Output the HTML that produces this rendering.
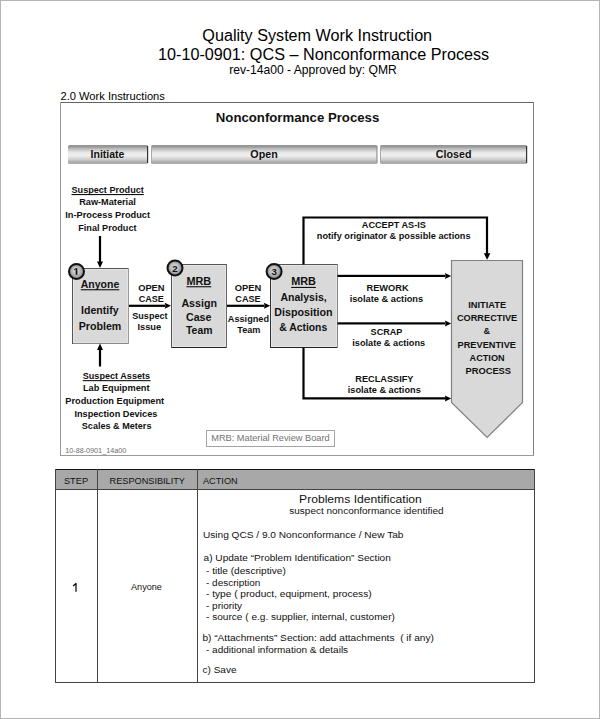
<!DOCTYPE html>
<html><head><meta charset="utf-8">
<style>
html,body{margin:0;padding:0;background:#fff;width:600px;height:719px;overflow:hidden}
svg{display:block}
text{font-family:"Liberation Sans",sans-serif;white-space:pre}
</style></head><body>
<svg width="600" height="719" viewBox="0 0 600 719">

<defs>
 <linearGradient id="btn" x1="0" y1="0" x2="0" y2="1">
  <stop offset="0" stop-color="#949494"/>
  <stop offset="0.1" stop-color="#999999"/>
  <stop offset="0.2" stop-color="#bdbdbd"/>
  <stop offset="0.4" stop-color="#e9e9e9"/>
  <stop offset="0.55" stop-color="#efefef"/>
  <stop offset="0.75" stop-color="#d2d2d2"/>
  <stop offset="0.9" stop-color="#aaaaaa"/>
  <stop offset="1" stop-color="#b0b0b0"/>
 </linearGradient>
 <radialGradient id="circ" cx="0.5" cy="0.5" r="0.5" fx="0.45" fy="0.42">
  <stop offset="0" stop-color="#d6d6d6"/>
  <stop offset="0.5" stop-color="#c0c0c0"/>
  <stop offset="1" stop-color="#808080"/>
 </radialGradient>
</defs>
<!-- page border -->
<rect x="0.5" y="0.5" width="599" height="718" fill="none" stroke="#b4b4b4" stroke-width="1"/>
<!-- diagram frame -->
<line x1="60" y1="102.5" x2="534" y2="102.5" stroke="#666" stroke-width="1"/>
<line x1="60.5" y1="102" x2="60.5" y2="456" stroke="#999" stroke-width="1"/>
<line x1="533.5" y1="102" x2="533.5" y2="456" stroke="#808080" stroke-width="1"/>
<line x1="60" y1="455.5" x2="534" y2="455.5" stroke="#999" stroke-width="1"/>
<!-- buttons -->
<rect x="68" y="145" width="80" height="19" rx="1.5" fill="url(#btn)"/>
<rect x="147" y="146" width="1.2" height="17" fill="#333"/>
<rect x="151" y="145" width="226.5" height="19" rx="1.5" fill="url(#btn)"/>
<rect x="151" y="146" width="1" height="17" fill="#a8a8a8"/>
<rect x="376.3" y="146" width="1.2" height="17" fill="#999"/>
<rect x="380" y="145" width="147" height="19" rx="1.5" fill="url(#btn)"/>
<rect x="380" y="146" width="1" height="17" fill="#a8a8a8"/>
<rect x="526" y="146" width="1.2" height="17" fill="#333"/>
<!-- boxes -->
<rect x="72" y="268" width="57" height="76" fill="#d9d9d9"/>
<rect x="73" y="269" width="55" height="1" fill="#e6e6e6"/>
<rect x="73" y="342" width="55" height="1" fill="#e4e4e4"/>
<rect x="73" y="269" width="1" height="74" fill="#e6e6e6"/>
<rect x="127" y="269" width="1" height="74" fill="#e4e4e4"/>
<rect x="72" y="268" width="57" height="1" fill="#555"/>
<rect x="72" y="343" width="57" height="1" fill="#888"/>
<rect x="72" y="268" width="1" height="76" fill="#555"/>
<rect x="128" y="268" width="1" height="76" fill="#999"/>
<rect x="171" y="264" width="56" height="84" fill="#d9d9d9"/>
<rect x="172" y="265" width="54" height="1" fill="#e6e6e6"/>
<rect x="172" y="346" width="54" height="1" fill="#e4e4e4"/>
<rect x="172" y="265" width="1" height="82" fill="#e6e6e6"/>
<rect x="225" y="265" width="1" height="82" fill="#e4e4e4"/>
<rect x="171" y="264" width="56" height="1" fill="#555"/>
<rect x="171" y="347" width="56" height="1" fill="#222"/>
<rect x="171" y="264" width="1" height="84" fill="#555"/>
<rect x="226" y="264" width="1" height="84" fill="#666"/>
<rect x="270" y="264" width="68" height="84" fill="#d9d9d9"/>
<rect x="271" y="265" width="66" height="1" fill="#e6e6e6"/>
<rect x="271" y="346" width="66" height="1" fill="#e4e4e4"/>
<rect x="271" y="265" width="1" height="82" fill="#e6e6e6"/>
<rect x="336" y="265" width="1" height="82" fill="#e4e4e4"/>
<rect x="270" y="264" width="68" height="1" fill="#555"/>
<rect x="270" y="347" width="68" height="1" fill="#222"/>
<rect x="270" y="264" width="1" height="84" fill="#333"/>
<rect x="337" y="264" width="1" height="84" fill="#888"/>
<polygon points="451.5,260.5 522.5,260.5 522.5,402.5 487.2,437.5 451.5,402.5" fill="#d9d9d9" stroke="#808080" stroke-width="1.2"/>
<!-- arrows -->
<g fill="#000" stroke="none">
 <rect x="98.9" y="236" width="2.2" height="26"/>
 <polygon points="97,261.5 103,261.5 100,268"/>
 <rect x="98.9" y="349.5" width="2.2" height="17"/>
 <polygon points="97,350 103,350 100,343.6"/>
 <rect x="129" y="304.70" width="36.30" height="2.2"/>
 <polygon points="164.70,302.80 171.00,305.80 164.70,308.80 165.50,305.80"/>
 <rect x="227" y="304.70" width="37.50" height="2.2"/>
 <polygon points="263.90,302.80 270.20,305.80 263.90,308.80 264.70,305.80"/>
 <path d="M302.4,264.5 V216.4 H488.1 V254 H485.9 V218.6 H304.6 V264.5 Z"/>
 <polygon points="483.8,253.2 490.4,253.2 487.1,259.8"/>
 <rect x="337.5" y="274.80" width="108.00" height="2.2"/>
 <polygon points="444.90,272.90 451.20,275.90 444.90,278.90 445.70,275.90"/>
 <rect x="337.5" y="322.30" width="108.00" height="2.2"/>
 <polygon points="444.90,320.40 451.20,323.40 444.90,326.40 445.70,323.40"/>
 <path d="M302.4,347.5 V399.5 H446 V397.3 H304.6 V347.5 Z"/>
 <polygon points="444.90,395.4 451.2,398.4 444.90,401.4 445.70,398.4"/>
</g>
<!-- circles -->
<circle cx="76.5" cy="271.4" r="7.5" fill="url(#circ)" stroke="#111" stroke-width="2"/>
<circle cx="175" cy="267.9" r="7.5" fill="url(#circ)" stroke="#111" stroke-width="2"/>
<circle cx="274.1" cy="271.4" r="7.5" fill="url(#circ)" stroke="#111" stroke-width="2"/>
<path transform="translate(73.6,274.8) scale(0.004736,-0.004736)" d="M440 0V1150L110 950V1190L480 1409H790V0Z" fill="#111"/>
<path d="M76,583.1 V591.8 M76.2,583.3 L73.2,586" stroke="#000" stroke-width="1.2" fill="none"/>
<!-- legend -->
<rect x="206.5" y="430.5" width="128" height="16" fill="#fff" stroke="#a4a4a4" stroke-width="1"/>
<!-- table -->
<rect x="56" y="470" width="478" height="19" fill="#a8a8a8"/>
<g fill="#444">
 <rect x="55" y="469" width="480" height="1" fill="#111"/>
 <rect x="55" y="489" width="480" height="1"/>
 <rect x="55" y="682" width="480" height="1"/>
 <rect x="55" y="469" width="1" height="214"/>
 <rect x="534" y="469" width="1" height="214"/>
 <rect x="97" y="469" width="1" height="214"/>
 <rect x="197" y="469" width="1" height="214"/>
</g>

<text x="202.35" y="40.80" font-size="16.18" font-weight="normal" fill="#000">Quality System Work Instruction</text>
<text x="158.07" y="59.70" font-size="16.19" font-weight="normal" fill="#000">10-10-0901: QCS – Nonconformance Process</text>
<text x="229.17" y="73.50" font-size="12.11" font-weight="normal" fill="#000">rev-14a00 - Approved by: QMR</text>
<text x="60.44" y="100.00" font-size="11.15" font-weight="normal" fill="#000">2.0 Work Instructions</text>
<text x="215.81" y="122.40" font-size="13.19" font-weight="bold" fill="#111">Nonconformance Process</text>
<text x="90.57" y="157.70" font-size="10.52" font-weight="bold" fill="#111">Initiate</text>
<text x="250.37" y="157.70" font-size="10.71" font-weight="bold" fill="#111">Open</text>
<text x="435.87" y="157.70" font-size="10.70" font-weight="bold" fill="#111">Closed</text>
<text x="71.52" y="193.00" font-size="9.10" font-weight="bold" fill="#111">Suspect Product</text>
<rect x="71.52" y="194.00" width="72.31" height="1.1" fill="#111"/>
<text x="79.15" y="205.30" font-size="9.20" font-weight="bold" fill="#111">Raw-Material</text>
<text x="65.25" y="217.50" font-size="9.25" font-weight="bold" fill="#111">In-Process Product</text>
<text x="78.25" y="230.80" font-size="9.15" font-weight="bold" fill="#111">Final Product</text>
<text x="80.79" y="287.60" font-size="10.49" font-weight="bold" fill="#111">Anyone</text>
<rect x="80.79" y="289.20" width="38.48" height="1.1" fill="#111"/>
<text x="81.07" y="314.00" font-size="10.57" font-weight="bold" fill="#111">Identify</text>
<text x="78.66" y="330.40" font-size="10.67" font-weight="bold" fill="#111">Problem</text>
<text x="138.13" y="291.00" font-size="9.33" font-weight="bold" fill="#111">OPEN</text>
<text x="138.64" y="301.50" font-size="9.07" font-weight="bold" fill="#111">CASE</text>
<text x="132.32" y="319.00" font-size="9.05" font-weight="bold" fill="#111">Suspect</text>
<text x="137.44" y="329.50" font-size="9.31" font-weight="bold" fill="#111">Issue</text>
<text x="186.45" y="285.10" font-size="10.90" font-weight="bold" fill="#111">MRB</text>
<rect x="186.45" y="286.20" width="24.81" height="1.1" fill="#111"/>
<text x="181.39" y="307.00" font-size="10.67" font-weight="bold" fill="#111">Assign</text>
<text x="185.97" y="320.90" font-size="10.67" font-weight="bold" fill="#111">Case</text>
<text x="186.06" y="333.50" font-size="10.40" font-weight="bold" fill="#111">Team</text>
<text x="234.83" y="290.80" font-size="9.37" font-weight="bold" fill="#111">OPEN</text>
<text x="235.34" y="301.50" font-size="9.11" font-weight="bold" fill="#111">CASE</text>
<text x="227.82" y="322.20" font-size="9.16" font-weight="bold" fill="#111">Assigned</text>
<text x="237.28" y="333.20" font-size="9.10" font-weight="bold" fill="#111">Team</text>
<text x="291.15" y="285.40" font-size="10.85" font-weight="bold" fill="#111">MRB</text>
<rect x="291.15" y="286.90" width="24.71" height="1.1" fill="#111"/>
<text x="280.49" y="300.50" font-size="10.53" font-weight="bold" fill="#111">Analysis,</text>
<text x="274.36" y="316.10" font-size="10.69" font-weight="bold" fill="#111">Disposition</text>
<text x="279.18" y="331.20" font-size="10.39" font-weight="bold" fill="#111">&amp; Actions</text>
<text x="361.82" y="228.10" font-size="9.14" font-weight="bold" fill="#111">ACCEPT AS-IS</text>
<text x="316.85" y="238.90" font-size="9.17" font-weight="bold" fill="#111">notify originator &amp; possible actions</text>
<text x="366.44" y="291.40" font-size="9.28" font-weight="bold" fill="#111">REWORK</text>
<text x="349.65" y="302.00" font-size="9.25" font-weight="bold" fill="#111">isolate &amp; actions</text>
<text x="370.62" y="334.80" font-size="9.09" font-weight="bold" fill="#111">SCRAP</text>
<text x="352.25" y="345.60" font-size="9.18" font-weight="bold" fill="#111">isolate &amp; actions</text>
<text x="355.35" y="381.50" font-size="9.18" font-weight="bold" fill="#111">RECLASSIFY</text>
<text x="347.75" y="393.20" font-size="9.20" font-weight="bold" fill="#111">isolate &amp; actions</text>
<text x="468.25" y="308.10" font-size="9.24" font-weight="bold" fill="#111">INITIATE</text>
<text x="456.93" y="320.70" font-size="9.21" font-weight="bold" fill="#111">CORRECTIVE</text>
<text x="483.53" y="334.40" font-size="9.10" font-weight="bold" fill="#111">&amp;</text>
<text x="457.55" y="347.60" font-size="9.23" font-weight="bold" fill="#111">PREVENTIVE</text>
<text x="469.62" y="360.70" font-size="9.14" font-weight="bold" fill="#111">ACTION</text>
<text x="465.44" y="374.10" font-size="9.33" font-weight="bold" fill="#111">PROCESS</text>
<text x="82.72" y="378.80" font-size="9.10" font-weight="bold" fill="#111">Suspect Assets</text>
<rect x="82.72" y="380.10" width="67.81" height="1.1" fill="#111"/>
<text x="82.95" y="391.30" font-size="9.22" font-weight="bold" fill="#111">Lab Equipment</text>
<text x="65.35" y="403.70" font-size="9.22" font-weight="bold" fill="#111">Production Equipment</text>
<text x="74.45" y="416.70" font-size="9.17" font-weight="bold" fill="#111">Inspection Devices</text>
<text x="81.82" y="429.00" font-size="9.09" font-weight="bold" fill="#111">Scales &amp; Meters</text>
<text x="211.26" y="441.25" font-size="9.23" font-weight="normal" fill="#737373">MRB: Material Review Board</text>
<text transform="translate(65.19,453.20) scale(1,1.08)" font-size="7.23" font-weight="normal" fill="#6e6e6e">10-88-0901_14a00</text>
<text x="172.33" y="271.70" font-size="9.70" font-weight="bold" fill="#111">2</text>
<text x="271.48" y="275.00" font-size="9.70" font-weight="bold" fill="#111">3</text>
<text x="63.93" y="483.80" font-size="9.27" font-weight="normal" fill="#111">STEP</text>
<text x="109.56" y="483.80" font-size="9.19" font-weight="normal" fill="#111">RESPONSIBILITY</text>
<text x="202.90" y="483.80" font-size="9.23" font-weight="normal" fill="#111">ACTION</text>
<text transform="translate(299.03,502.80) scale(1,0.94)" font-size="12.15" font-weight="normal" fill="#111">Problems Identification</text>
<text transform="translate(289.30,514.00) scale(1,0.9)" font-size="10.00" font-weight="normal" fill="#111">suspect nonconformance identified</text>
<text transform="translate(202.89,538.00) scale(1,0.88)" font-size="10.13" font-weight="normal" fill="#111">Using QCS / 9.0 Nonconformance / New Tab</text>
<text transform="translate(203.60,561.00) scale(1,0.88)" font-size="10.09" font-weight="normal" fill="#111">a) Update “Problem Identification” Section</text>
<text transform="translate(205.99,574.00) scale(1,0.88)" font-size="10.13" font-weight="normal" fill="#111">- title (descriptive)</text>
<text transform="translate(206.00,585.50) scale(1,0.88)" font-size="10.00" font-weight="normal" fill="#111">- description</text>
<text transform="translate(205.99,597.00) scale(1,0.88)" font-size="10.15" font-weight="normal" fill="#111">- type ( product, equipment, process)</text>
<text transform="translate(206.00,608.50) scale(1,0.88)" font-size="10.00" font-weight="normal" fill="#111">- priority</text>
<text transform="translate(206.00,620.00) scale(1,0.88)" font-size="10.10" font-weight="normal" fill="#111">- source ( e.g. supplier, internal, customer)</text>
<text transform="translate(202.39,641.00) scale(1,0.88)" font-size="10.16" font-weight="normal" fill="#111">b) “Attachments” Section: add attachments  ( if any)</text>
<text transform="translate(206.00,652.50) scale(1,0.88)" font-size="10.00" font-weight="normal" fill="#111">- additional information &amp; details</text>
<text transform="translate(202.60,673.00) scale(1,0.88)" font-size="10.00" font-weight="normal" fill="#111">c) Save</text>
<text x="131.00" y="590.00" font-size="9.12" font-weight="normal" fill="#111">Anyone</text>
</svg>
</body></html>
